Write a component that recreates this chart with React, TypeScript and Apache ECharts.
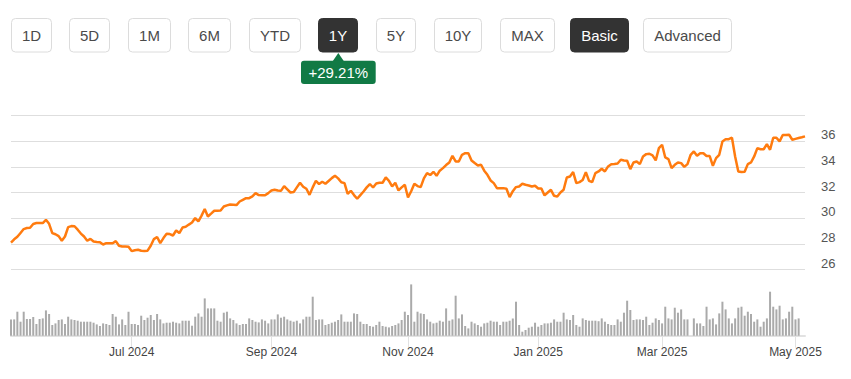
import React, { useEffect, useRef } from "react";
import * as echarts from "echarts";

// ---- data ----
const rangeButtons = ["1D", "5D", "1M", "6M", "YTD", "1Y", "5Y", "10Y", "MAX", "Basic", "Advanced"];
const activeButtons = ["1Y", "Basic"];
const changeLabel = "+29.21%";

const startDate = "2024-05-06";
const marketHolidays = [
  "2024-05-27", "2024-06-19", "2024-07-04", "2024-09-02", "2024-11-28", "2024-12-25",
  "2025-01-01", "2025-01-09", "2025-01-20", "2025-02-17", "2025-04-18",
];
const labelMonths = ["2024-07", "2024-09", "2024-11", "2025-01", "2025-03", "2025-05"];
const monthLabels = ["Jul 2024", "Sep 2024", "Nov 2024", "Jan 2025", "Mar 2025", "May 2025"];

const priceTicks = [26, 28, 30, 32, 34, 36];

const priceData = [
  28.10, 28.35, 28.55, 28.85, 29.15, 29.23, 29.25, 29.55, 29.62, 29.62,
  29.62, 29.87, 29.56, 28.84, 28.75, 28.60, 28.24, 28.57, 29.30, 29.38,
  29.37, 29.10, 28.80, 28.57, 28.24, 28.39, 28.18, 28.15, 28.13, 27.95,
  28.05, 28.05, 28.05, 28.21, 27.85, 27.79, 27.80, 27.78, 27.43, 27.50,
  27.54, 27.46, 27.45, 27.47, 27.85, 28.37, 28.53, 28.06, 28.45, 28.78,
  28.76, 28.65, 29.04, 28.84, 29.27, 29.33, 29.50, 29.66, 30.01, 29.74,
  30.20, 30.71, 30.13, 30.35, 30.58, 30.58, 30.60, 30.91, 31.00, 31.07,
  31.05, 31.02, 31.30, 31.43, 31.56, 31.56, 31.70, 31.95, 31.80, 31.78,
  31.78, 31.95, 32.15, 32.21, 32.15, 32.13, 32.50, 32.25, 32.00, 32.03,
  32.40, 32.76, 32.45, 32.29, 31.82, 32.40, 32.91, 32.66, 32.84, 32.68,
  32.90, 33.12, 33.30, 33.10, 32.80, 32.73, 31.90, 32.13, 31.80, 31.51,
  31.80, 32.08, 32.40, 32.66, 32.39, 32.70, 32.76, 32.76, 33.17, 32.91,
  32.47, 32.76, 32.16, 32.40, 32.60, 31.61, 32.10, 32.68, 32.50, 32.42,
  33.10, 33.51, 33.36, 33.61, 33.30, 33.70, 33.90, 34.14, 34.34, 34.86,
  34.42, 34.42, 34.94, 35.06, 35.06, 34.50, 34.30, 34.11, 34.16, 33.70,
  33.38, 32.94, 32.73, 32.34, 32.34, 32.34, 32.29, 31.64, 32.10, 32.42,
  32.47, 32.68, 32.60, 32.55, 32.47, 32.52, 32.31, 32.31, 31.77, 32.00,
  32.21, 31.74, 31.69, 32.00, 32.21, 33.17, 33.25, 33.59, 32.73, 32.81,
  32.97, 33.59, 32.91, 32.81, 33.51, 33.64, 33.85, 33.64, 34.03, 34.21,
  34.22, 34.26, 34.55, 34.50, 34.47, 33.82, 34.34, 34.42, 34.21, 34.81,
  34.99, 35.02, 34.89, 34.50, 35.46, 35.72, 34.73, 34.60, 33.90, 34.16,
  34.34, 34.29, 34.00, 34.21, 34.94, 35.20, 34.86, 35.06, 35.06, 34.84,
  34.84, 34.08, 34.68, 34.94, 35.98, 36.15, 36.15, 36.27, 34.81, 33.64,
  33.59, 33.62, 34.21, 34.34, 34.81, 35.46, 35.37, 35.37, 35.77, 35.33,
  36.27, 36.27, 35.98, 36.48, 36.48, 36.50, 36.11, 36.18, 36.24, 36.30,
  36.37,
];

// volume, millions of shares (latest two sessions not yet reported)
const volumeM = [
  16.3, 16.3, 24, 14, 24, 16.7, 16.7, 18.7, 11.7, 16.7,
  17.3, 25.3, 21.7, 10.7, 12.3, 15.7, 16.3, 11.7, 19, 16.3,
  15.7, 15, 14, 14, 14, 14, 13, 11.3, 9.7, 12.3,
  11.7, 10.7, 21.7, 19, 11.3, 16.3, 10.7, 24, 11.7, 11.7,
  10.7, 20, 15.7, 18, 20.7, 15.7, 21.7, 16.3, 12.3, 13,
  13, 14, 13, 12.3, 15, 15, 15, 10, 19, 22.3,
  19, 37.3, 27.3, 27.3, 27.3, 15, 14, 23, 24, 17.3,
  15.7, 12.3, 10.7, 11.7, 11.7, 17.3, 15.7, 14, 13.3, 16.3,
  15, 12.3, 16.3, 16.3, 21.3, 18, 19, 16.3, 15, 14,
  15, 12.3, 16.3, 19, 19, 39, 15.7, 16.3, 16.3, 10.7,
  11.7, 13, 14, 15.7, 21.3, 14, 14, 14, 22.3, 21.7,
  14, 11.7, 11.7, 9.7, 9, 10.7, 14, 9.7, 9, 8.3,
  9.7, 10.7, 12.3, 15.7, 24, 20.7, 51.3, 14, 24, 22.3,
  21.7, 16.3, 14, 12.3, 13, 15, 14, 27.3, 15, 16.3,
  40, 17.3, 21.3, 9.7, 7.3, 14, 12.3, 10.7, 9, 12.3,
  13, 15, 14, 14, 10.7, 14, 14, 15, 17.3, 34,
  10.7, 4, 5.7, 8, 9, 13, 9, 10.7, 12.3, 12.3,
  13, 16.3, 14, 14, 23, 16.3, 15.7, 20.7, 10.7, 9,
  17.3, 15.7, 15, 15, 15, 14.5, 17.3, 14, 11.7, 10.7,
  10.7, 16.3, 14, 23, 35, 25.7, 15.7, 16.3, 16.3, 15.7,
  19, 10.7, 13, 17.3, 15.7, 12.3, 29, 17.3, 16.3, 28,
  23, 26.3, 16.3, 16.3, 0, 17.3, 12.3, 12.3, 9.7, 29,
  16.3, 17.3, 11.3, 22.3, 34, 26.3, 17.3, 12.3, 17.3, 28,
  29, 20, 24, 21.7, 14, 16.3, 9, 14, 17.3, 44,
  29, 26.3, 30, 16.3, 17.3, 24, 29, 16.3, 17.3,
];

// ---- build trading-day categories ----
function tradingDays(start: string, count: number, holidays: string[]): string[] {
  const out: string[] = [];
  const [y, m, d] = start.split("-").map(Number);
  let t = Date.UTC(y, m - 1, d);
  const hol = new Set(holidays);
  while (out.length < count) {
    const dt = new Date(t);
    const wd = dt.getUTCDay();
    const s = dt.toISOString().slice(0, 10);
    if (wd !== 0 && wd !== 6 && !hol.has(s)) out.push(s);
    t += 86400000;
  }
  return out;
}

const dates = tradingDays(startDate, priceData.length, marketHolidays);

// layout (not data)
const FONT = '"Liberation Sans", Arial, Helvetica, sans-serif';
const buttonLayout = [
  { x: 11.5, w: 40 }, { x: 69.5, w: 40 }, { x: 128.5, w: 42 }, { x: 188.5, w: 42 },
  { x: 249.5, w: 51 }, { x: 318.5, w: 39 }, { x: 376.5, w: 39 }, { x: 434.5, w: 47 },
  { x: 500.5, w: 54 }, { x: 570.5, w: 58 }, { x: 643.5, w: 88 },
];

export default function App() {
  const ref = useRef<HTMLDivElement>(null);

  useEffect(() => {
    if (!ref.current) return;
    const chart = echarts.init(ref.current, undefined, { renderer: "svg" });

    const monthStartIdx = new Map<number, string>();
    dates.forEach((d, i) => {
      const key = d.slice(0, 7);
      const k = labelMonths.indexOf(key);
      if (k >= 0 && (i === 0 || dates[i - 1].slice(0, 7) !== key)) {
        if (i !== 0) monthStartIdx.set(i, monthLabels[k]);
      }
    });
    const showTick = (index: number) => monthStartIdx.has(index);

    const graphics: any[] = [];
    rangeButtons.forEach((label, i) => {
      const L = buttonLayout[i];
      const active = activeButtons.includes(label);
      graphics.push({
        type: "rect",
        shape: { x: L.x, y: 18.5, width: L.w, height: 33.5, r: 4 },
        style: {
          fill: active ? "#333333" : "#ffffff",
          stroke: active ? "#333333" : "#dcdcdc",
          lineWidth: 1,
        },
      });
      graphics.push({
        type: "text",
        x: L.x + L.w / 2,
        y: 35.5,
        style: {
          text: label,
          fill: active ? "#ffffff" : "#4a4a4a",
          fontSize: 15,
          fontFamily: FONT,
          align: "center",
          verticalAlign: "middle",
        },
      });
    });
    // change badge
    graphics.push({
      type: "polygon",
      shape: { points: [[332.5, 61.5], [338.3, 53], [344.1, 61.5]] },
      style: { fill: "#117a45" },
    });
    graphics.push({
      type: "rect",
      shape: { x: 301, y: 60.7, width: 74.7, height: 23.3, r: 3 },
      style: { fill: "#117a45" },
    });
    graphics.push({
      type: "text",
      x: 338.3,
      y: 72.6,
      style: {
        text: changeLabel,
        fill: "#ffffff",
        fontSize: 15,
        fontFamily: FONT,
        align: "center",
        verticalAlign: "middle",
      },
    });

    chart.setOption({
      animation: false,
      graphic: { elements: graphics },
      grid: [
        { left: 11, right: 46, top: 115.5, height: 154 },
        { left: 11, right: 46, top: 275.7, height: 60 },
      ],
      xAxis: [
        {
          type: "category",
          gridIndex: 0,
          data: dates,
          boundaryGap: false,
          show: false,
        },
        {
          type: "category",
          gridIndex: 1,
          data: dates,
          boundaryGap: false,
          axisLine: { lineStyle: { color: "#e2e2e2", width: 2 } },
          axisTick: {
            interval: showTick,
            length: 12,
            lineStyle: { color: "#e2e2e2", width: 1 },
          },
          axisLabel: {
            interval: showTick,
            formatter: (_v: string, idx: number) => monthStartIdx.get(idx) || "",
            margin: 10,
            color: "#444444",
            fontSize: 12,
            fontFamily: FONT,
          },
          splitLine: { show: false },
        },
      ],
      yAxis: [
        {
          type: "value",
          gridIndex: 0,
          position: "right",
          min: 26,
          max: 38,
          interval: 2,
          splitLine: { lineStyle: { color: "#dedede", width: 1 } },
          axisLine: { show: false },
          axisTick: { show: false },
          axisLabel: {
            margin: 16,
            color: "#555555",
            fontSize: 13,
            fontFamily: FONT,
            verticalAlign: "bottom",
            formatter: (v: number) => (priceTicks.includes(v) ? String(v) : ""),
          },
        },
        {
          type: "value",
          gridIndex: 1,
          min: 0,
          max: 60,
          show: false,
        },
      ],
      series: [
        {
          type: "line",
          xAxisIndex: 0,
          yAxisIndex: 0,
          data: priceData,
          symbol: "none",
          lineStyle: { color: "#ff7b0f", width: 2.5 },
          z: 3,
        },
        {
          type: "bar",
          xAxisIndex: 1,
          yAxisIndex: 1,
          data: volumeM,
          barWidth: 2,
          itemStyle: { color: "#aaaaaa" },
        },
      ],
    });

    return () => chart.dispose();
  }, []);

  return (
    <div
      ref={ref}
      style={{ position: "absolute", left: 0, top: 0, width: 851, height: 379, background: "#fff" }}
    />
  );
}
